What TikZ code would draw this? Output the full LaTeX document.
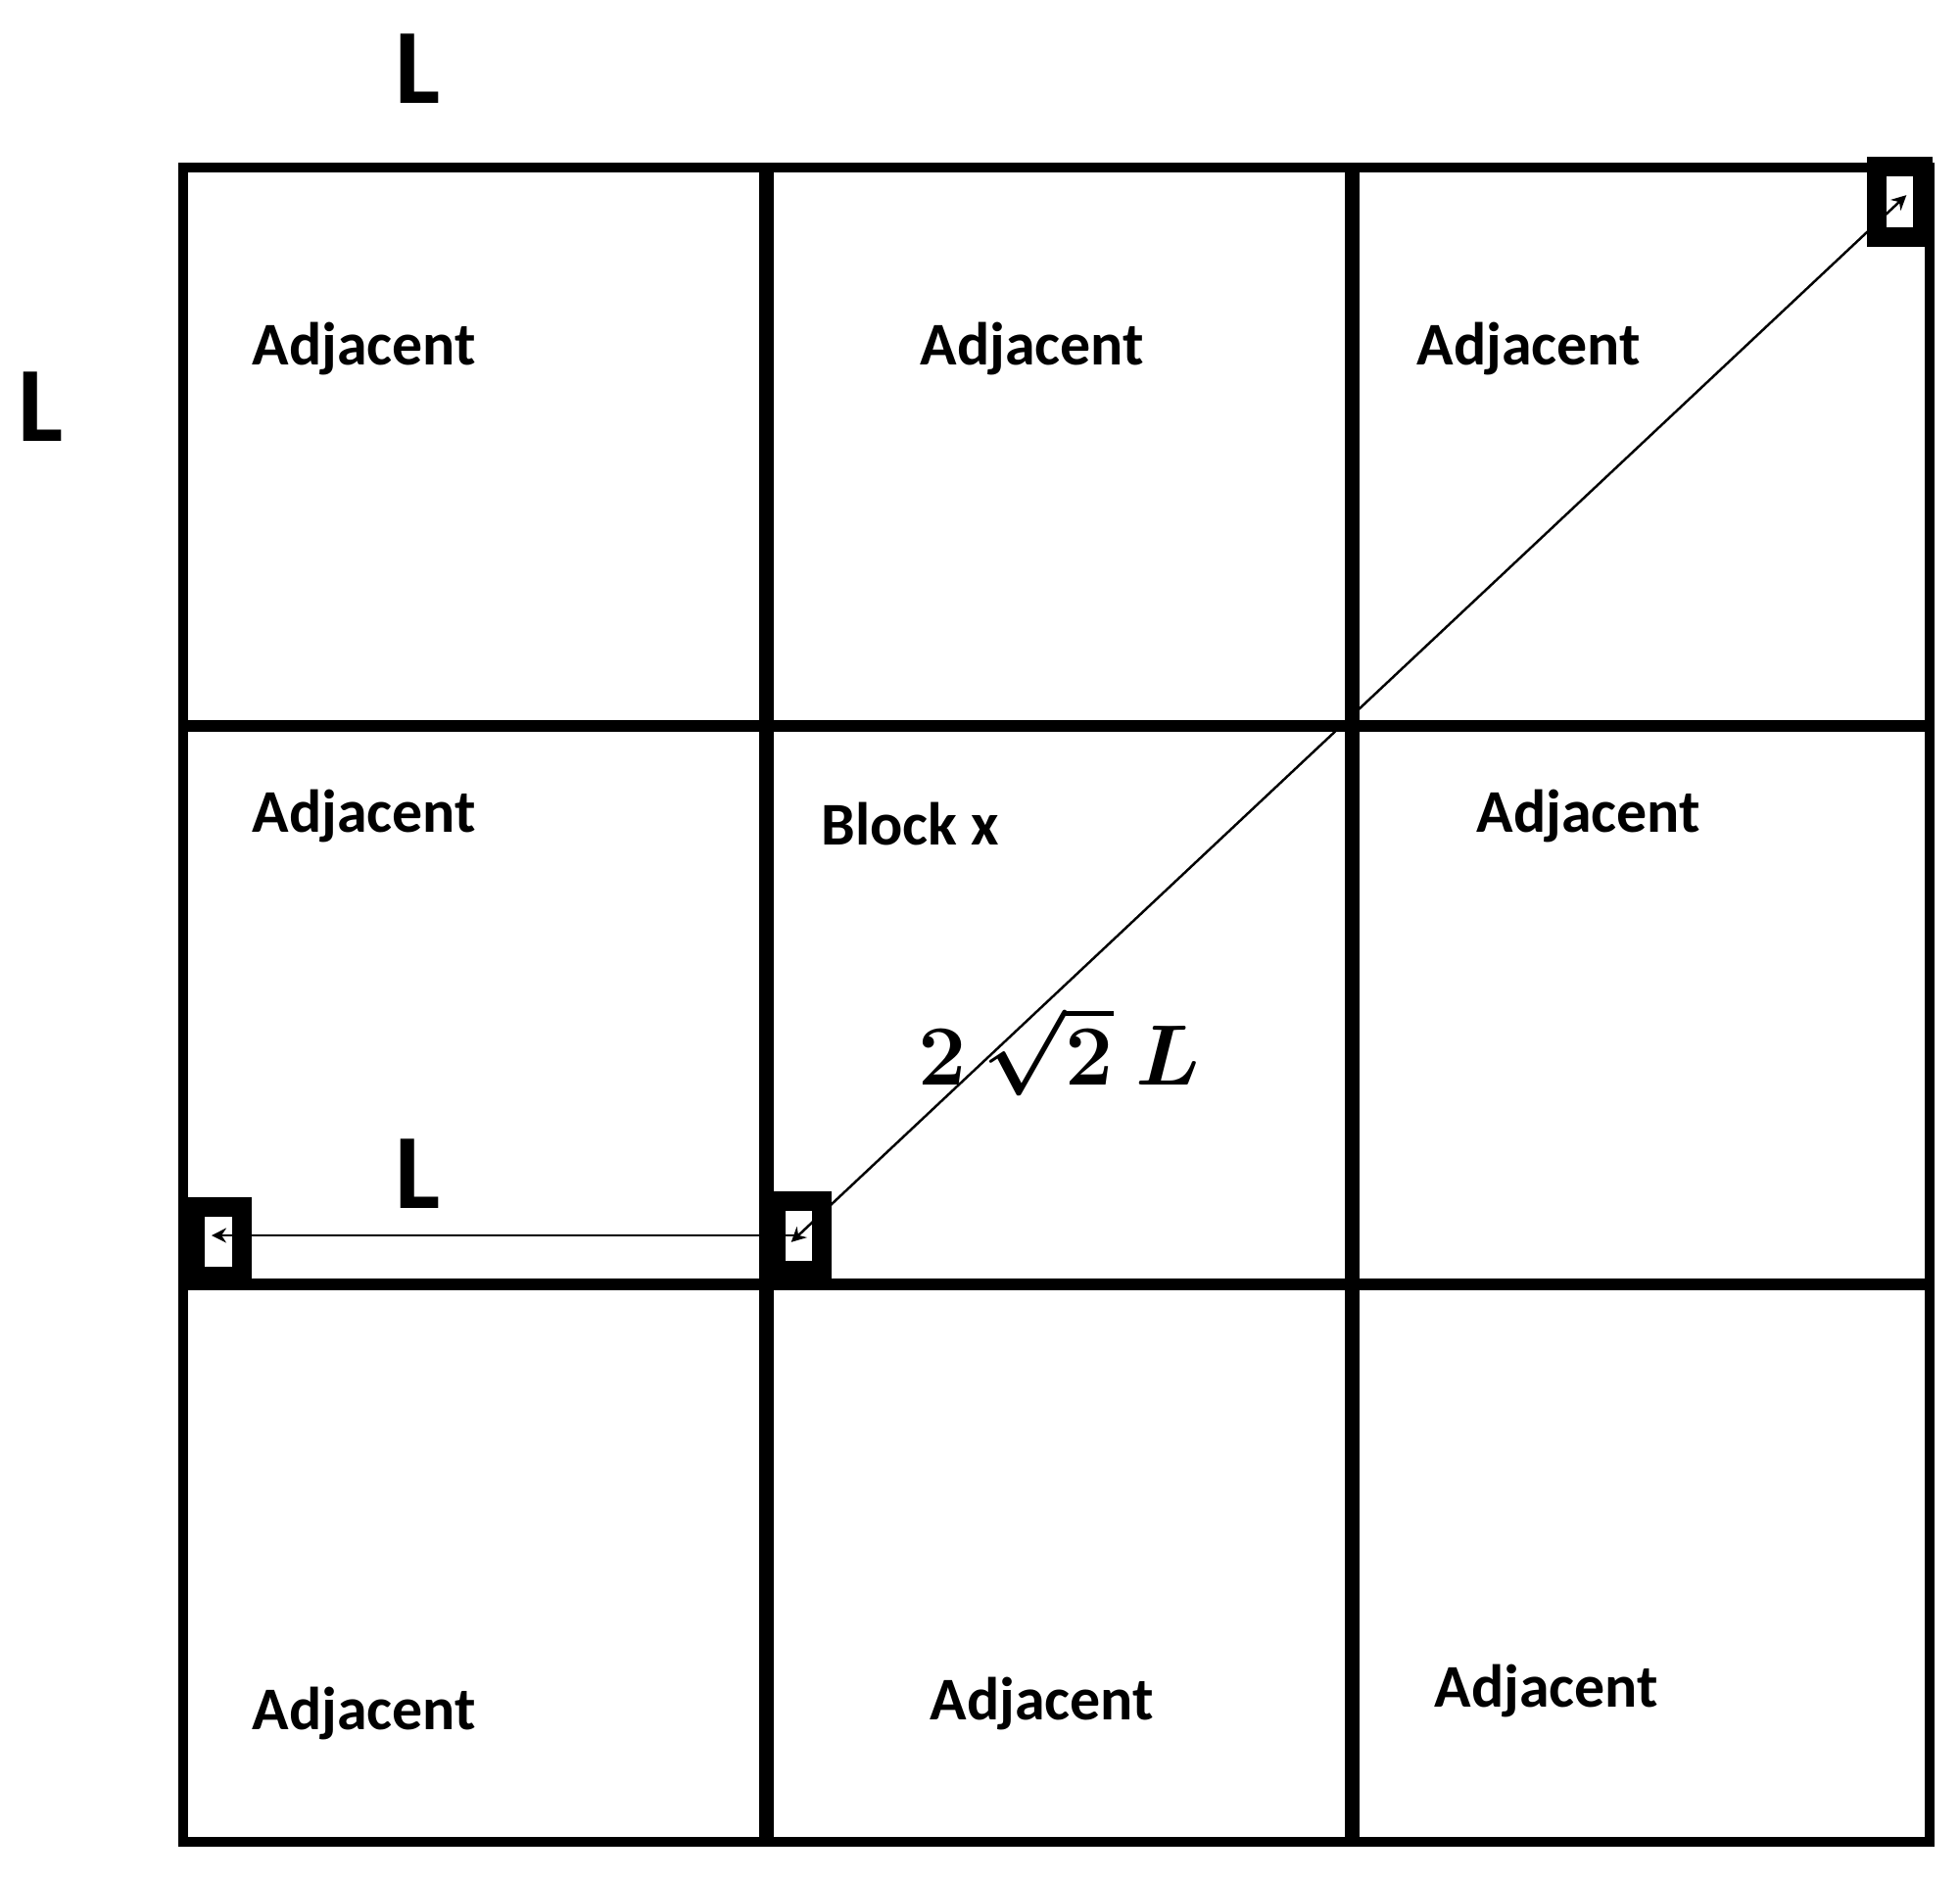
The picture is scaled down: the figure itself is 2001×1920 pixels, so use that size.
\documentclass[tikz,border=0pt]{standalone}
\usepackage[no-math]{fontspec}
\setmainfont{Carlito}
\usetikzlibrary{arrows.meta}
\begin{document}
\begin{tikzpicture}[x=0.01cm,y=-0.01cm,
    adj/.style={anchor=base west,inner sep=0,font=\fontsize{17.6}{20}\selectfont\bfseries},
    side/.style={inner sep=0,font=\fontsize{31}{36}\selectfont\bfseries},
    lenlabel/.style={anchor=base west,inner sep=0,font=\fontsize{29}{34}\selectfont\boldmath},
    marker/.style={draw,line width=0.2cm,minimum width=0.47cm,minimum height=0.71cm,inner sep=0},
    dist/.style={line width=0.7pt},
    tip/.tip={Stealth[length=0.15cm,width=0.15cm]}]
  \useasboundingbox (0,0) rectangle (2001,1920);
  %blocchi
  \draw[line width=0.1cm] (187,171) rectangle (1970,1880);
  \foreach \x in {782,1380} \draw[line width=0.15cm] (\x,171) -- (\x,1880);
  \foreach \y in {741,1311} \draw[line width=0.12cm] (187,\y) -- (1970,\y);
  %lati
  \node[side] (ltop) at (427,70) {L};
  \node[side] (lleft) at (42,415) {L};
  \node[side] (lmid) at (427,1198) {L};
  %etichette
  \node[adj] (a1) at (257,372) {Adjacent};
  \node[adj] (a2) at (939,372) {Adjacent};
  \node[adj] (a3) at (1446,372) {Adjacent};
  \node[adj] (a4) at (257,849) {Adjacent};
  \node[adj] (bx) at (838,862) {Block x};
  \node[adj] (a6) at (1507,849) {Adjacent};
  \node[adj] (a7) at (257,1765) {Adjacent};
  \node[adj] (a8) at (949,1755) {Adjacent};
  \node[adj] (a9) at (1464,1742) {Adjacent};
  \node[lenlabel] (dlen) at (937,1107) {$\mathbf{2}\,\sqrt{\mathbf{2}}\mkern4mu L$};
  %punti
  \node[marker] (mleft) at (223,1267) {};
  \node[marker] (mmid) at (815,1261) {};
  \node[marker] (mtop) at (1939,206) {};
  \draw[dist,-tip,shorten >=-0.07cm] (mmid.center) -- (mmid.center -| mleft.center);
  \draw[dist,tip-tip,shorten <=-0.1cm,shorten >=-0.1cm] (mmid.center) -- (mtop.center);
\end{tikzpicture}
\end{document}
